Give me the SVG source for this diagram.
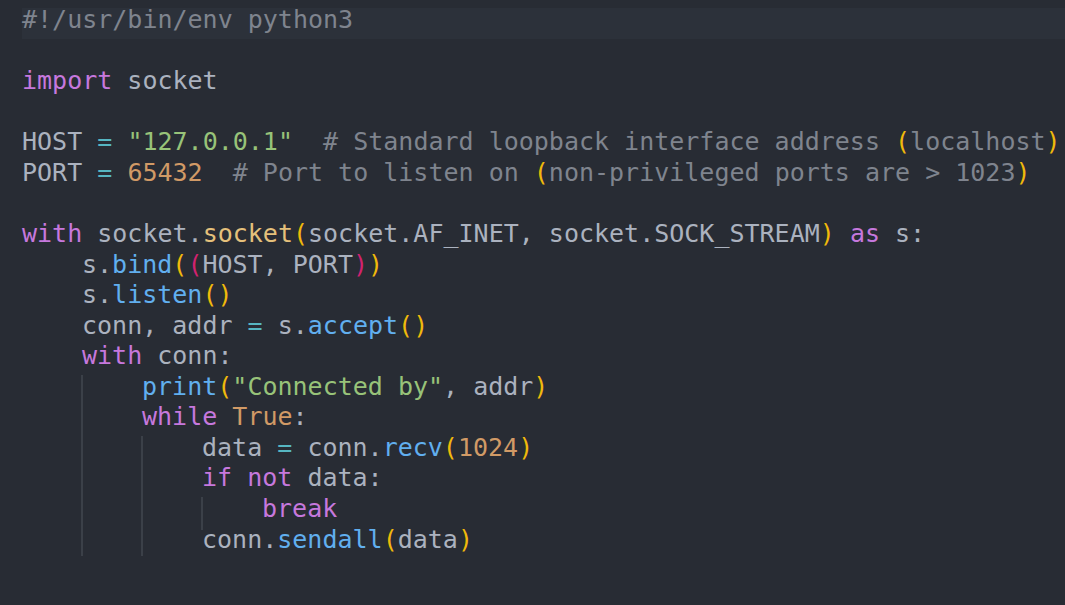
<svg xmlns="http://www.w3.org/2000/svg" width="1065" height="605" viewBox="0 0 1065 605">
<style>
text{font-family:"DejaVu Sans Mono","Liberation Mono",monospace;font-size:25px;fill:#abb2bf;white-space:pre}
.k{fill:#c678dd}.s{fill:#98c379}.n{fill:#d19a66}.f{fill:#61afef}.o{fill:#56b6c2}.c{fill:#7f848e}.p{fill:#f0b90b}.q{fill:#d1226f}.y{fill:#e5c07b}
.g{stroke:#3b4048;stroke-width:2}
</style>
<rect width="1065" height="605" fill="#282c34"/>
<rect x="22" y="8" width="1043" height="31" fill="#2c313a"/>
<line class="g" x1="82" y1="375" x2="82" y2="556"/>
<line class="g" x1="142" y1="436" x2="142" y2="556"/>
<line class="g" x1="202" y1="497" x2="202" y2="530"/>
<g xml:space="preserve">
<text x="22" y="28" class="c">#!/usr/bin/env python3</text>
<text x="22" y="89"><tspan class="k">import</tspan> socket</text>
<text x="22" y="150">HOST <tspan class="o">=</tspan> <tspan class="s">"127.0.0.1"</tspan><tspan class="c">  # Standard loopback interface address </tspan><tspan class="p">(</tspan><tspan class="c">localhost</tspan><tspan class="p">)</tspan></text>
<text x="22" y="181">PORT <tspan class="o">=</tspan> <tspan class="n">65432</tspan><tspan class="c">  # Port to listen on </tspan><tspan class="p">(</tspan><tspan class="c">non-privileged ports are &gt; 1023</tspan><tspan class="p">)</tspan></text>
<text x="22" y="242"><tspan class="k">with</tspan> socket.<tspan class="y">socket</tspan><tspan class="p">(</tspan>socket.AF_INET, socket.SOCK_STREAM<tspan class="p">)</tspan> <tspan class="k">as</tspan> s:</text>
<text x="82" y="273">s.<tspan class="f">bind</tspan><tspan class="p">(</tspan><tspan class="q">(</tspan>HOST, PORT<tspan class="q">)</tspan><tspan class="p">)</tspan></text>
<text x="82" y="303">s.<tspan class="f">listen</tspan><tspan class="p">()</tspan></text>
<text x="82" y="334">conn, addr <tspan class="o">=</tspan> s.<tspan class="f">accept</tspan><tspan class="p">()</tspan></text>
<text x="82" y="364"><tspan class="k">with</tspan> conn:</text>
<text x="142" y="395"><tspan class="f">print</tspan><tspan class="p">(</tspan><tspan class="s">"Connected by"</tspan>, addr<tspan class="p">)</tspan></text>
<text x="142" y="425"><tspan class="k">while</tspan> <tspan class="n">True</tspan>:</text>
<text x="202" y="456">data <tspan class="o">=</tspan> conn.<tspan class="f">recv</tspan><tspan class="p">(</tspan><tspan class="n">1024</tspan><tspan class="p">)</tspan></text>
<text x="202" y="486"><tspan class="k">if</tspan> <tspan class="k">not</tspan> data:</text>
<text x="262" y="517" class="k">break</text>
<text x="202" y="548">conn.<tspan class="f">sendall</tspan><tspan class="p">(</tspan>data<tspan class="p">)</tspan></text>
</g>
</svg>
